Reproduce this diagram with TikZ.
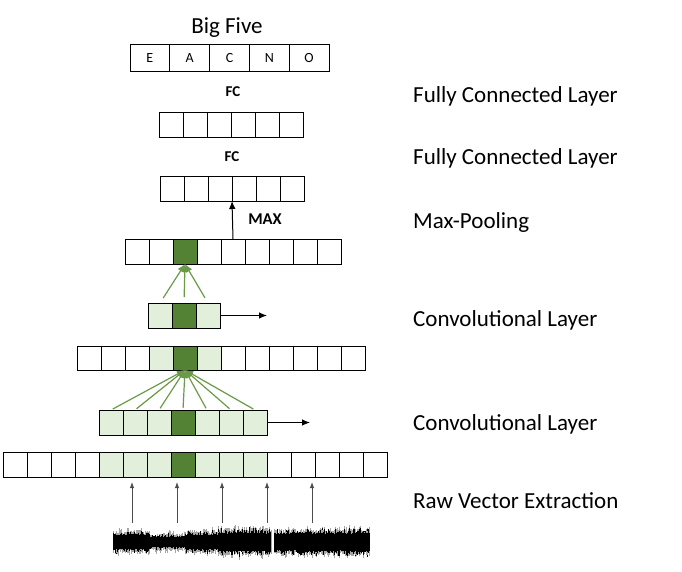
\documentclass[tikz,border=0pt]{standalone}
\usepackage{fontspec}
\setmainfont{Carlito}
\usepackage{tikz}
\usetikzlibrary{arrows.meta}
\definecolor{darkgreen}{HTML}{548235}
\definecolor{litegreen}{HTML}{E2EFDA}
\definecolor{linegreen}{HTML}{6A9A48}

\begin{document}
\begin{tikzpicture}[x=1pt, y=-1pt,
    cell/.style={draw, line width=1pt, minimum width=24pt, minimum height=25pt, inner sep=0pt, outer sep=0pt},
    litecell/.style={fill=litegreen},
    darkcell/.style={fill=darkgreen},
    conv/.style={draw=linegreen, line width=1.2pt, -{Latex[length=8pt,width=7pt]}},
    flow/.style={line width=1pt, -{Latex[length=8pt,width=6.5pt]}},
    raw/.style={draw=black!70, line width=1pt, -{Latex[length=6pt,width=4.5pt]}},
    layername/.style={anchor=base west, font=\fontsize{23}{27}\selectfont, inner sep=0pt},
    oplabel/.style={font=\fontsize{15}{17}\selectfont\bfseries}]
    \useasboundingbox (0,0) rectangle (682,572);

    % raw input vector
    \foreach \i in {0,1,2,3,11,12,13,14,15} \node[cell] (in\i) at (15+24*\i, 464.5) {};
    \foreach \i in {4,5,6,8,9,10} \node[cell, litecell] (in\i) at (15+24*\i, 464.5) {};
    \node[cell, darkcell] (in7) at (183, 464.5) {};

    % first convolution
    \foreach \i in {0,1,2,4,5,6} \node[cell, litecell] (ca\i) at (111+24*\i, 422.5) {};
    \node[cell, darkcell] (ca3) at (183, 422.5) {};
    \coordinate (caout) at (310, 422.5);

    \foreach \i in {0,1,2,6,7,8,9,10,11} \node[cell, minimum height=24pt] (cb\i) at (89+24*\i, 358) {};
    \foreach \i in {3,5} \node[cell, litecell, minimum height=24pt] (cb\i) at (89+24*\i, 358) {};
    \node[cell, darkcell, minimum height=24pt] (cb4) at (185, 358) {};

    % second convolution
    \node[cell, litecell] (cc0) at (160, 315.5) {};
    \node[cell, darkcell] (cc1) at (184, 315.5) {};
    \node[cell, litecell] (cc2) at (208, 315.5) {};
    \coordinate (ccout) at (267, 315.5);

    % max pooling
    \foreach \i in {0,1,3,4,5,6,7,8} \node[cell] (mp\i) at (137+24*\i, 251.5) {};
    \node[cell, darkcell] (mp2) at (185, 251.5) {};

    % fully connected
    \foreach \i in {0,...,5} \node[cell, minimum height=24pt] (fb\i) at (172+24*\i, 189) {};
    \foreach \i in {0,...,5} \node[cell] (fa\i) at (171+24*\i, 125.5) {};

    % output
    \foreach \t [count=\i from 0] in {E,A,C,N,O}
        \node[cell, minimum width=39.8pt, minimum height=27pt, font=\fontsize{14}{16}\selectfont] (out\i) at (149.9+39.8*\i, 58.5) {\t};
    \node[font=\fontsize{23}{27}\selectfont] (bigfive) at (227, 28) {Big Five};

    \node[oplabel] (fclbla) at (233, 92) {FC};
    \node[oplabel] (fclblb) at (232, 157) {FC};
    \node[oplabel, font=\fontsize{16.5}{18}\selectfont\bfseries] (maxlbl) at (265, 219) {MAX};

    % connectors
    \foreach \i in {0,...,6} \draw[conv, shorten <=2pt] (ca\i.north) -- (cb4.south);
    \foreach \i in {0,1,2} \draw[conv, shorten <=6pt] (cc\i.north) -- (mp2.south);
    \draw[flow] (ca6.east) -- (caout);
    \draw[flow] (cc2.east) -- (ccout);
    \draw[flow] (mp4.north) -- (fb2.south east);

    % waveform
    \pgfmathsetseed{7}
    \foreach \x in {113,113.6,...,271} {
        \pgfmathsetmacro\env{ifthenelse(\x<150,11,ifthenelse(\x<185,8,ifthenelse(\x<218,11,14)))}
        \pgfmathsetmacro\up{0.6*\env+0.5*\env*rnd*rnd}
        \pgfmathsetmacro\dn{0.6*\env+0.5*\env*rnd*rnd}
        \draw[black!35, line width=0.5pt] (\x,542-\up-4*rnd) -- (\x,542+\dn+4*rnd);
        \draw[line width=0.8pt] (\x,542-\up) -- (\x,542+\dn);
    }
    \foreach \x in {274,274.6,...,370} {
        \pgfmathsetmacro\env{ifthenelse(\x<300,13,14)}
        \pgfmathsetmacro\up{0.6*\env+0.5*\env*rnd*rnd}
        \pgfmathsetmacro\dn{0.6*\env+0.5*\env*rnd*rnd}
        \draw[black!35, line width=0.5pt] (\x,542-\up-4*rnd) -- (\x,542+\dn+4*rnd);
        \draw[line width=0.8pt] (\x,542-\up) -- (\x,542+\dn);
    }
    \foreach \x [count=\k] in {132,177,222,267,312} {
        \coordinate (wv\k) at (\x, 523);
        \coordinate (wt\k) at (\x, 482);
        \draw[raw] (wv\k) -- (wt\k);
    }

    % layer names
    \node[layername] (namefa) at (413, 103) {Fully Connected Layer};
    \node[layername] (namefb) at (413, 165) {Fully Connected Layer};
    \node[layername] (namemp) at (413, 228) {Max-Pooling};
    \node[layername] (namecb) at (413, 326) {Convolutional Layer};
    \node[layername] (nameca) at (413, 430) {Convolutional Layer};
    \node[layername] (namein) at (413, 508) {Raw Vector Extraction};
\end{tikzpicture}
\end{document}
